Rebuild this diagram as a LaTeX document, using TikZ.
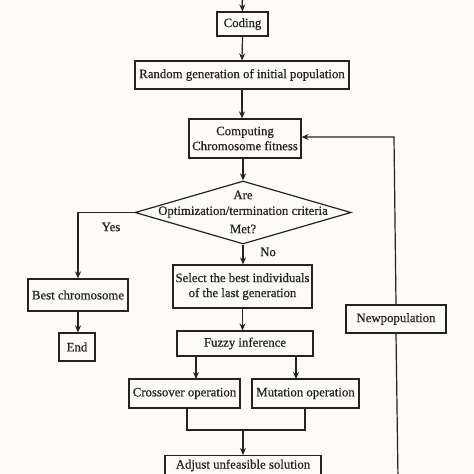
\documentclass[tikz,border=0pt]{standalone}
\usepackage{fontspec}
\setmainfont{Liberation Serif}[FakeBold=0.6]
\usetikzlibrary{shapes.geometric,arrows.meta}
\definecolor{ink}{HTML}{26231F}
\definecolor{paper}{HTML}{FCFBF8}
\begin{document}
\begin{tikzpicture}[x=1pt,y=-1pt,
  every node/.style={font=\fontsize{12.8}{15}\selectfont, text=ink},
  box/.style={draw=ink, line width=1.2pt, inner sep=0pt, align=center},
  conn/.style={draw=ink, line width=1.2pt},
  arr/.style={conn, -{Stealth[length=7pt,width=6pt]}}]
\fill[paper] (0,0) rectangle (474,474);
\clip (0,0) rectangle (474,474);
\coordinate (top) at (242,-5);
\node[box, minimum width=51pt, minimum height=24pt] (coding) at (242.5,24) {Coding};
\node[box, minimum width=214pt, minimum height=28pt] (random) at (242,75) {Random generation of initial population};
\node[box, minimum width=112pt, minimum height=39pt] (fit) at (245,138.5) {Computing\\Chromosome fitness};
\node[draw=ink, line width=1.2pt, diamond, aspect=3.43, inner sep=0pt, minimum width=216pt, minimum height=63pt, align=center] (dec) at (243,212.5) {};
\node at (243,195) {Are};
\node at (243,212) {Optimization/termination criteria};
\node at (243,229) {Met?};
\node[box, minimum width=100pt, minimum height=32pt] (best) at (78,295) {Best chromosome};
\node[box, minimum width=36pt, minimum height=28pt] (end) at (77,347) {End};
\node[box, minimum width=139pt, minimum height=43pt] (sel) at (242.5,286.5) {Select the best individuals\\of the last generation};
\node[box, minimum width=136pt, minimum height=25pt] (fuzzy) at (245,343.5) {Fuzzy inference};
\node[box, minimum width=111pt, minimum height=29pt] (cross) at (184.5,393.5) {Crossover operation};
\node[box, minimum width=107pt, minimum height=29pt] (mut) at (305.5,393.5) {Mutation operation};
\node[box, minimum width=156pt, anchor=north, inner ysep=4pt, text depth=12pt] (adj) at (243,455) {Adjust unfeasible solution};
\node[box, minimum width=100pt, minimum height=28pt] (newp) at (396,319) {Newpopulation};
\node (yes) at (111,227) {Yes};
\node (no) at (268,252) {No};
\coordinate (bot) at (398,480);
\draw[arr] (top) -- (coding.north);
\draw[arr] (coding.south) -- (random.north);
\draw[arr] (random.south) -- (random.south |- fit.north);
\draw[arr] (fit.south -| dec.north) -- (dec.north);
\draw[arr] (dec.west) -| (best.north);
\draw[arr] (best.south) -- (best.south |- end.north);
\draw[arr] (dec.south) -- (dec.south |- sel.north);
\draw[arr] (sel.south) -- (sel.south |- fuzzy.north);
\draw[arr] (fuzzy.south -| 196,0) -- (196,379);
\draw[arr] (fuzzy.south -| 296,0) -- (296,379);
\draw[conn] (cross.south -| 187,0) -- (187,430) -- (305,430) -- (mut.south -| 305,0);
\draw[arr] (243,430) -- (adj.north);
\draw[conn] (bot) -- (newp.south);
\draw[arr] (newp.north) -- (394,137) -- (fit.east |- 0,137);
\end{tikzpicture}
\end{document}
